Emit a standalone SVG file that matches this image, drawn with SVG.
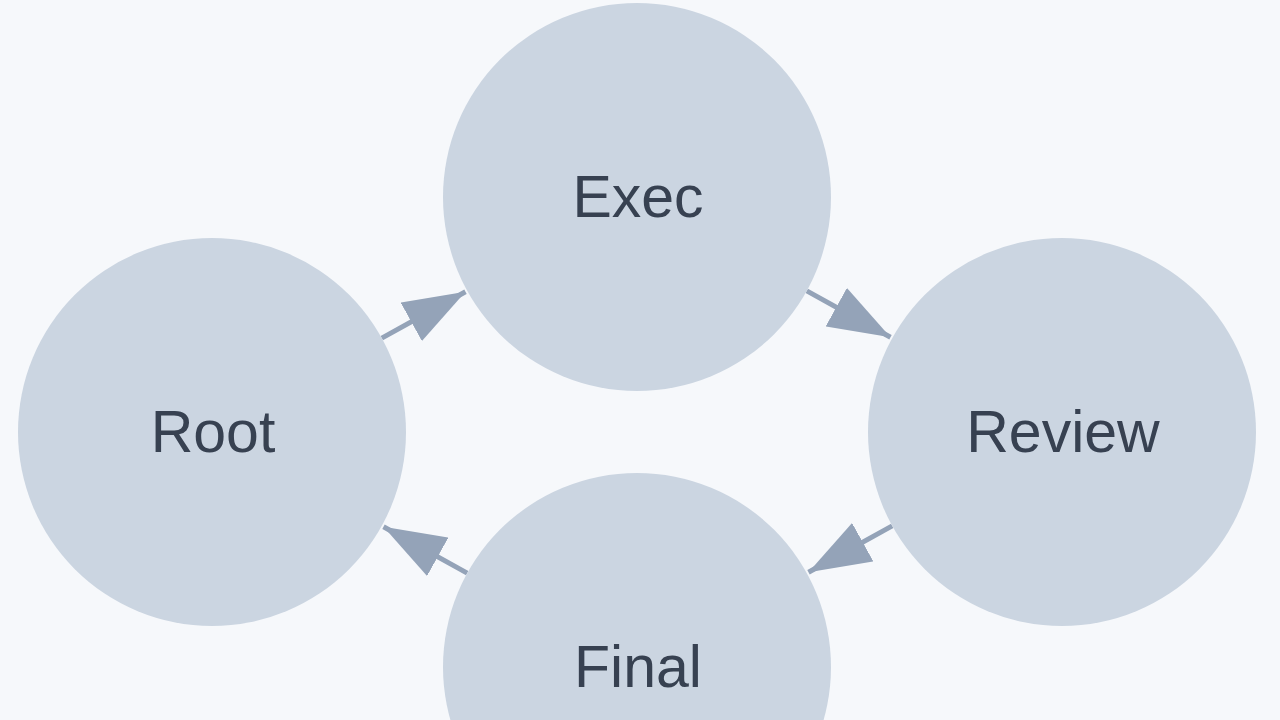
<svg xmlns="http://www.w3.org/2000/svg" width="1280" height="720" viewBox="0 0 1280 720">
<style>
.node circle{fill:#cbd5e1;}
.node text{font-family:"Liberation Sans",Arial,sans-serif;font-size:59px;fill:#374151;text-anchor:middle;}
.edge{stroke:#94a3b8;stroke-width:5;fill:none;marker-end:url(#arrow);}
</style>
<defs>
<marker id="arrow" markerUnits="userSpaceOnUse" markerWidth="62" markerHeight="44" refX="62" refY="22" orient="auto">
<path d="M0,0 L62,22 L0,44 z" fill="#94a3b8"/>
</marker>
</defs>
<rect width="1280" height="720" fill="#f6f8fb"/>
<g id="connectors">
<line class="edge" x1="381.8" y1="338.1" x2="465.5" y2="291.8"/>
<line class="edge" x1="806.8" y1="290.9" x2="890.5" y2="337.2"/>
<line class="edge" x1="892.2" y1="525.9" x2="808.5" y2="572.2"/>
<line class="edge" x1="467.2" y1="573.1" x2="383.5" y2="526.8"/>
</g>
<g id="node-exec" class="node"><circle cx="637" cy="197" r="194"/><text x="638" y="217">Exec</text></g>
<g id="node-root" class="node"><circle cx="212" cy="432" r="194"/><text x="213" y="452">Root</text></g>
<g id="node-review" class="node"><circle cx="1062" cy="432" r="194"/><text x="1063" y="452">Review</text></g>
<g id="node-final" class="node"><circle cx="637" cy="667" r="194"/><text x="638" y="687">Final</text></g>
</svg>
